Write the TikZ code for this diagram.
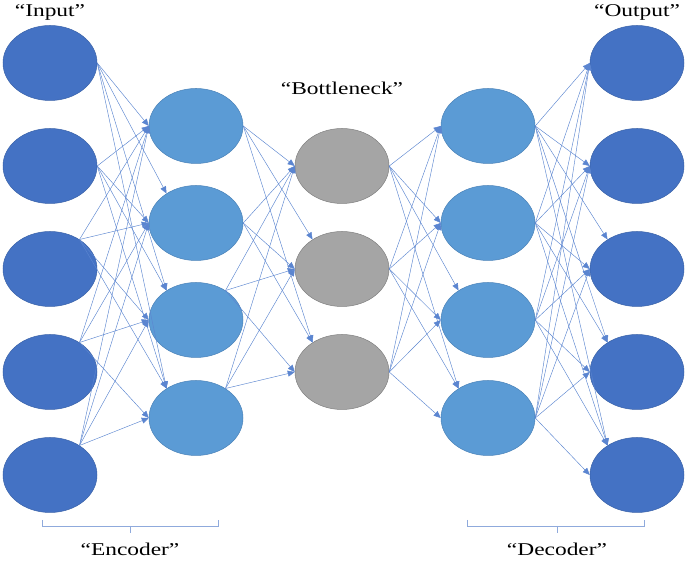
\documentclass[tikz,border=0pt]{standalone}
\usepackage{fontspec}
\setmainfont{Liberation Serif}
\usetikzlibrary{arrows.meta, shapes.geometric}
\definecolor{outerblue}{HTML}{4472C4}
\definecolor{outerline}{HTML}{3A62A8}
\definecolor{hiddenblue}{HTML}{5B9BD5}
\definecolor{hiddenline}{HTML}{4A82B8}
\definecolor{codegray}{HTML}{A5A5A5}
\definecolor{codeline}{HTML}{808080}
\definecolor{linkblue}{HTML}{5B85D0}
\definecolor{bracketblue}{HTML}{8FAADC}

\begin{document}
\begin{tikzpicture}[x=1pt, y=1pt,
        unit/.style={ellipse, minimum width=94pt, minimum height=75pt, inner sep=0pt, line width=0.5pt},
        outer/.style={unit, fill=outerblue, draw=outerline},
        hidden/.style={unit, fill=hiddenblue, draw=hiddenline},
        code/.style={unit, fill=codegray, draw=codeline},
        link/.style={draw=linkblue, line width=0.45pt, -{Triangle[width=6pt,length=7pt]}},
        title/.style={font=\fontsize{18}{20}\selectfont, xscale=1.3}]

        \useasboundingbox (0,0) rectangle (685,561);

        % Input
        \node[outer] (in1) at (50,498) {};
        \node[outer] (in2) at (50,395) {};
        \node[outer] (in3) at (50,292) {};
        \node[outer] (in4) at (50,189) {};
        \node[outer] (in5) at (50,86)  {};

        % Encoder
        \node[hidden] (enc1) at (196,435) {};
        \node[hidden] (enc2) at (196,338) {};
        \node[hidden] (enc3) at (196,241) {};
        \node[hidden] (enc4) at (196,143) {};

        % Bottleneck
        \node[code] (bot1) at (342,395) {};
        \node[code] (bot2) at (342,292) {};
        \node[code] (bot3) at (342,189) {};

        % Decoder
        \node[hidden] (dec1) at (488,435) {};
        \node[hidden] (dec2) at (488,338) {};
        \node[hidden] (dec3) at (488,241) {};
        \node[hidden] (dec4) at (488,143) {};

        % Output
        \node[outer] (out1) at (637,498) {};
        \node[outer] (out2) at (637,395) {};
        \node[outer] (out3) at (637,292) {};
        \node[outer] (out4) at (637,189) {};
        \node[outer] (out5) at (637,86)  {};

        % Input -> Encoder
        \foreach \i/\sa in {1/0,2/0,3/45,4/45,5/45}
          \foreach \j in {1,...,4} {
            \pgfmathsetmacro\dy{(435-97.33*(\j-1))-(498-103*(\i-1))}
            \pgfmathtruncatemacro\ta{\dy<-65 ? 135 : 180}
            \draw[link] (in\i.\sa) -- (enc\j.\ta);
          }

        % Encoder -> Bottleneck
        \foreach \i/\sa in {1/0,2/0,3/45,4/45}
          \foreach \j in {1,...,3} {
            \pgfmathsetmacro\dy{(395-103*(\j-1))-(435-97.33*(\i-1))}
            \pgfmathtruncatemacro\ta{\dy<-65 ? 135 : 180}
            \draw[link] (enc\i.\sa) -- (bot\j.\ta);
          }

        % Bottleneck -> Decoder
        \foreach \i in {1,...,3}
          \foreach \j in {1,...,4} {
            \pgfmathsetmacro\dy{(435-97.33*(\j-1))-(395-103*(\i-1))}
            \pgfmathtruncatemacro\ta{\dy<-65 ? 135 : 180}
            \draw[link] (bot\i.east) -- (dec\j.\ta);
          }

        % Decoder -> Output
        \foreach \i in {1,...,4}
          \foreach \j in {1,...,5} {
            \pgfmathsetmacro\dy{(498-103*(\j-1))-(435-97.33*(\i-1))}
            \pgfmathtruncatemacro\ta{\dy<-65 ? 135 : 180}
            \draw[link] (dec\i.east) -- (out\j.\ta);
          }

        % Labels
        \node[title] (inlabel)  at (50,549)  {“Input”};
        \node[title] (outlabel) at (637,549) {“Output”};
        \node[title] (botlabel) at (342,473) {“Bottleneck”};
        \node[title] (enclabel) at (130,12)  {“Encoder”};
        \node[title] (declabel) at (557,12)  {“Decoder”};

        % Brackets
        \draw[bracketblue, line width=0.6pt] (42,41) -- (42,35) -- (218,35) -- (218,41);
        \draw[bracketblue, line width=0.6pt] (130,35) -- (130,28);
        \draw[bracketblue, line width=0.6pt] (467,41) -- (467,35) -- (644,35) -- (644,41);
        \draw[bracketblue, line width=0.6pt] (557,35) -- (557,28);
      \end{tikzpicture}
\end{document}
